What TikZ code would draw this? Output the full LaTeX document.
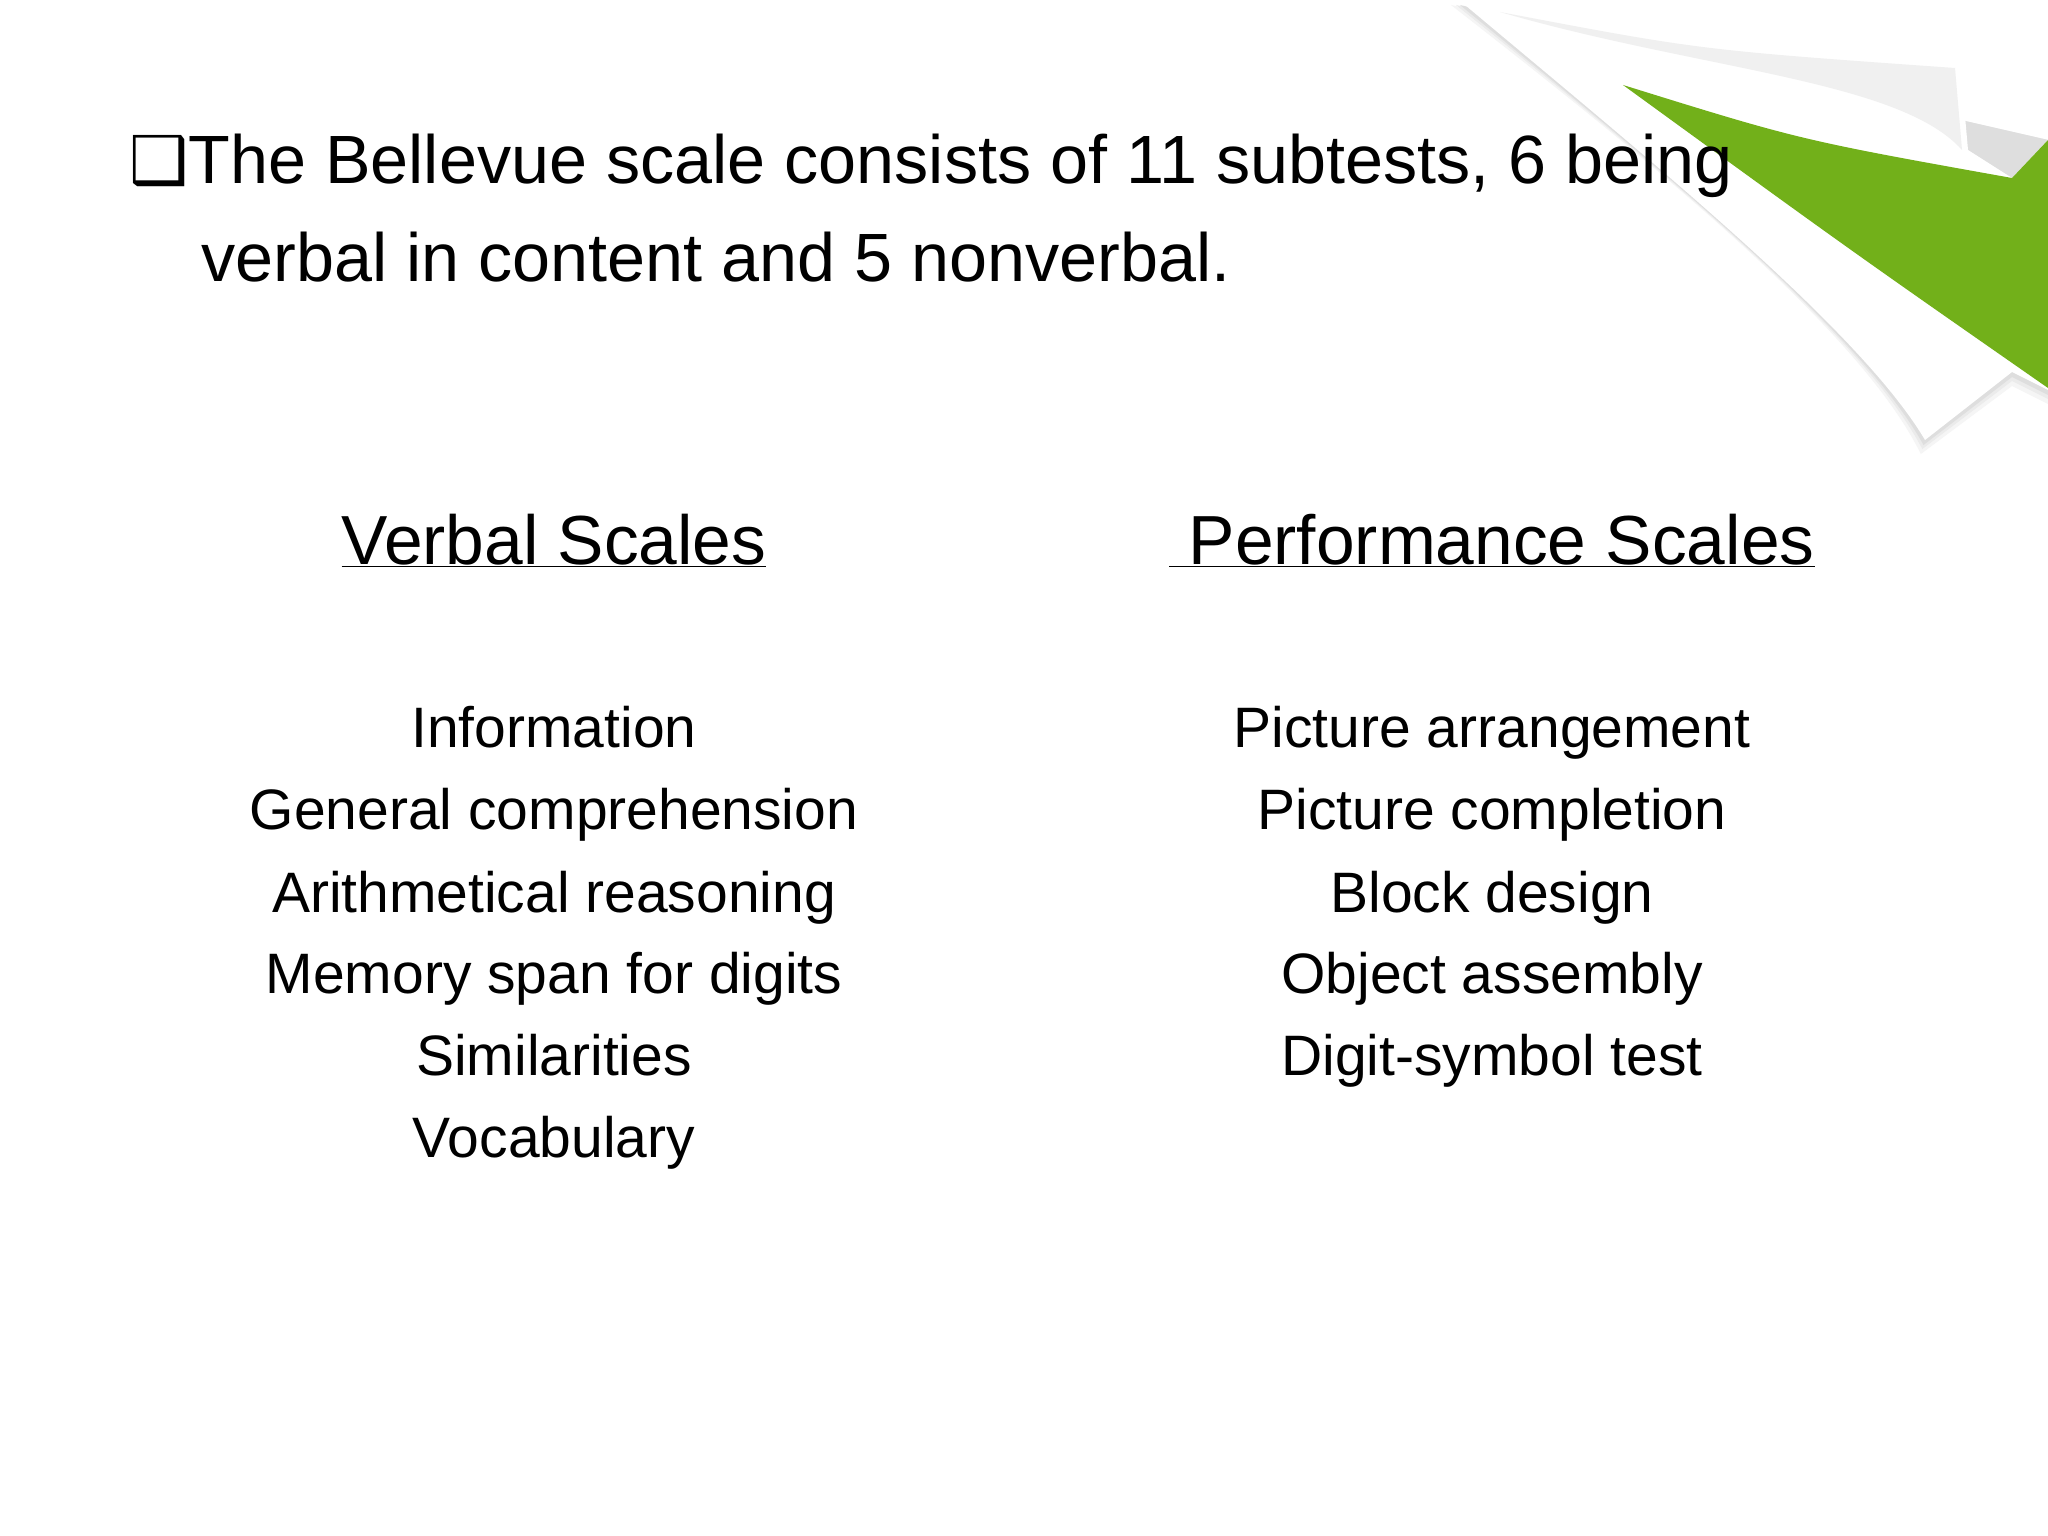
\documentclass[tikz,border=0pt]{standalone}
\usepackage{fontspec}
\setmainfont{Liberation Sans}
\newfontfamily\symf{DejaVu Sans}
\definecolor{leaf}{HTML}{72B01A}
\begin{document}
\begin{tikzpicture}[x=1pt,y=-1pt,
  item/.style={anchor=base,font=\fontsize{57}{60}\selectfont},
  head/.style={anchor=base,font=\fontsize{69.5}{80}\selectfont},
  line/.style={anchor=base west,font=\fontsize{68.3}{80}\selectfont}]
\useasboundingbox (0,0) rectangle (2048,1536);
\fill[white] (0,0) rectangle (2048,1536);
% page curl shadow
\foreach \s/\c in {14/black!4,9/black!8,5/black!13}{
  \fill[\c] (1465-\s,5) .. controls (1650,160) and (1860,330) .. (1925-\s*0.3,440+\s) -- (2012,372+\s) -- (2048,390+\s) -- (2048,140) -- cycle;}
% white flap
\fill[white] (1465,5) .. controls (1700,45) .. (1960,60) -- (1968,150) -- (2012,178) -- (2048,140) -- (2048,390) -- (2012,372) -- (1925,440) .. controls (1860,330) and (1650,160) .. cycle;
\fill[black!6] (1500,12) .. controls (1700,50) .. (1955,68) -- (1962,150) .. controls (1900,80) and (1700,70) .. cycle;
% green
\fill[leaf] (1623,85) .. controls (1800,140) .. (2012,178) -- (2048,140) -- (2048,388) .. controls (1850,250) .. cycle;
% title
\node[line] (t1) at (126,183) {{\symf\fontsize{66}{60}\selectfont\bfseries ❑}The Bellevue scale consists of 11 subtests, 6 being};
\node[line] (t2) at (198,281) {verbal in content and 5 nonverbal.};
% headings
\node[head] (hv) at (554,564) {\underline{Verbal Scales}};
\node[head] (hp) at (1492,564) {\underline{\ Performance Scales}};
% items
\node[item] (v1) at (554,747) {Information};
\node[item] (v2) at (554,829) {General comprehension};
\node[item] (v3) at (554,912) {Arithmetical reasoning};
\node[item] (v4) at (554,993) {Memory span for digits};
\node[item] (v5) at (554,1075) {Similarities};
\node[item] (v6) at (554,1157) {Vocabulary};
\node[item] (p1) at (1492,747) {Picture arrangement};
\node[item] (p2) at (1492,829) {Picture completion};
\node[item] (p3) at (1492,912) {Block design};
\node[item] (p4) at (1492,993) {Object assembly};
\node[item] (p5) at (1492,1075) {Digit-symbol test};
\end{tikzpicture}
\end{document}
